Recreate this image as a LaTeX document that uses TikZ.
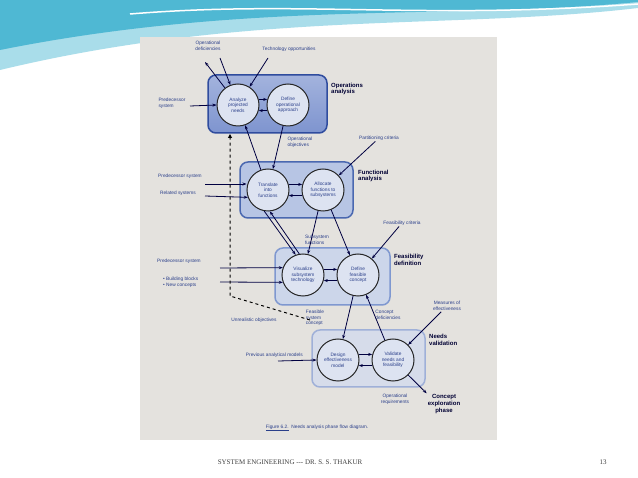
\documentclass[tikz,border=0pt]{standalone}
\usepackage{fontspec}
\setmainfont{Liberation Sans}
\newfontfamily\footfont{Liberation Serif}
\usetikzlibrary{arrows.meta}
\definecolor{photo}{HTML}{E4E2DE}
\definecolor{teal1}{HTML}{4FB8D3}
\definecolor{teal2}{HTML}{A9DDEA}
\definecolor{bline}{HTML}{2A3F8A}
\definecolor{opsA}{HTML}{A3B3DD}
\definecolor{opsB}{HTML}{7E94CF}
\definecolor{opsD}{HTML}{2F4C9E}
\definecolor{funF}{HTML}{B7C5E4}
\definecolor{funD}{HTML}{4A68B0}
\definecolor{feaF}{HTML}{CCD6EA}
\definecolor{feaD}{HTML}{7F98D0}
\definecolor{nvF}{HTML}{D6DCEA}
\definecolor{nvD}{HTML}{9FB0D8}
\definecolor{circF}{HTML}{DDE3F1}
\tikzset{
 proc/.style={circle,draw=black!85,line width=1pt,fill=circF,minimum size=42pt,inner sep=0pt,align=center,font=\fontsize{4.8}{5.6}\selectfont,text=bline},
 lbl/.style={font=\fontsize{4.8}{5.6}\selectfont,text=bline,align=left,inner sep=1pt},
 blbl/.style={font=\bfseries\fontsize{6}{6.8}\selectfont,text=black!80!blue,align=left,inner sep=1pt},
 ar/.style={-{Stealth[length=4pt,width=3pt]},line width=0.8pt,draw=black!75!blue},
 grp/.style={rounded corners=8pt,line width=1.5pt},
}
\begin{document}
\begin{tikzpicture}[x=1pt,y=-1pt]
\useasboundingbox (0,0) rectangle (638,478);
\fill[white] (0,0) rectangle (638,478);
% top wave
\fill[teal2] (0,0) -- (638,0) -- (638,8) .. controls (450,30) and (250,10) .. (0,70) -- cycle;
\fill[teal1] (0,0) -- (638,0) -- (638,2) .. controls (450,20) and (250,0) .. (0,50) -- cycle;
\draw[white,line width=1.5pt] (130,14) .. controls (300,0) and (420,20) .. (638,4);
% photo
\fill[photo] (140,37) rectangle (497,440);
% group boxes
\draw[grp,draw=opsD,top color=opsA,bottom color=opsB] (208,75) rectangle (327,133);
\draw[grp,draw=funD,fill=funF] (240,162) rectangle (353,218);
\draw[grp,draw=feaD,fill=feaF] (275,248) rectangle (390,305);
\draw[grp,draw=nvD,fill=nvF] (312,330) rectangle (425,387);
% circles
\node[proc] (an) at (238,105) {Analyze\\projected\\needs};
\node[proc] (dop) at (288,105) {Define\\operational\\approach};
\node[proc] (tr) at (268,190) {Translate\\into\\functions};
\node[proc] (al) at (323,190) {Allocate\\functions to\\subsystems};
\node[proc] (vi) at (303,275) {Visualize\\subsystem\\technology};
\node[proc] (df) at (358,275) {Define\\feasible\\concept};
\node[proc] (de) at (338,360) {Design\\effectiveness\\model};
\node[proc] (va) at (393,360) {Validate\\needs and\\feasibility};
% labels
\node[blbl,anchor=west] at (330,89) {Operations\\analysis};
\node[blbl,anchor=west] at (357,176) {Functional\\analysis};
\node[blbl,anchor=west] at (393,260) {Feasibility\\definition};
\node[blbl,anchor=west] at (428,340) {Needs\\validation};
\node[blbl,align=center] (cep) at (444,404) {Concept\\exploration\\phase};
\node[lbl,align=center] (od) at (208,46) {Operational\\deficiencies};
\node[lbl] (to) at (289,49) {Technology opportunities};
\node[lbl] (ps1) at (172,103) {Predecessor\\system};
\node[lbl] (oo) at (300,142) {Operational\\objectives};
\node[lbl] (pc) at (379,138) {Partitioning criteria};
\node[lbl,anchor=west] (ps2) at (157,176) {Predecessor system};
\node[lbl,anchor=west] (rs) at (159,193) {Related systems};
\node[lbl] (fc) at (402,223) {Feasibility criteria};
\node[lbl] (sf) at (317,240) {Subsystem\\functions};
\node[lbl,anchor=west] (ps3) at (156,261) {Predecessor system};
\node[lbl,anchor=west] (bb) at (162,282) {• Building blocks\\• New concepts};
\node[lbl] (uo) at (254,320) {Unrealistic objectives};
\node[lbl] (fsc) at (315,318) {Feasible\\system\\concept};
\node[lbl] (cd) at (388,315) {Concept\\deficiencies};
\node[lbl,align=center] (moe) at (447,306) {Measures of\\effectiveness};
\node[lbl,anchor=east] (pam) at (304,355) {Previous analytical models};
\node[lbl,align=center] (or) at (395,399) {Operational\\requirements};
\node[lbl] at (317,428) {\underline{Figure 6.2.}\ \ Needs analysis phase flow diagram.};
\node[font=\footfont\fontsize{7}{8}\selectfont,text=black!75] at (290,462) {SYSTEM ENGINEERING -\kern0pt-\kern0pt- DR. S. S. THAKUR};
\node[font=\footfont\fontsize{7}{8}\selectfont,text=black!75] at (603,462) {13};
% connectors
\coordinate (odo) at (205,62);
\coordinate (odi) at (220,58);
\coordinate (toi) at (268,58);
\coordinate (ps1e) at (190,106);
\coordinate (ps2e) at (205,184);
\coordinate (rse) at (205,196);
\coordinate (ps3e) at (220,268);
\coordinate (bbe) at (220,282);
\coordinate (pame) at (278,361);
\draw[ar] (an) -- (odo);
\draw[ar] (odi) -- (an);
\draw[ar] (toi) -- (an);
\draw[ar] (ps1e) -- (an.west);
\draw[ar] (an.15) -- (dop.165);
\draw[ar] (dop.195) -- (an.-15);
\draw[ar] (dop) -- (tr);
\draw[ar] (tr) -- (an);
\draw[ar] (pc) -- (al);
\draw[ar] (ps2e) -- (ps2e -| tr.west);
\draw[ar] (rse) -- (tr.200);
\draw[ar] (tr.15) -- (al.165);
\draw[ar] (al.195) -- (tr.-15);
\draw[ar] (tr.-100) -- (vi.110);
\draw[ar] (vi.100) -- (tr.-85);
\draw[ar] (al) -- (vi);
\draw[ar] (al) -- (df);
\draw[ar] (fc) -- (df);
\draw[ar] (ps3e) -- (vi.160);
\draw[ar] (bbe) -- (vi.200);
\draw[ar] (vi.15) -- (df.165);
\draw[ar] (df.195) -- (vi.-15);
\draw[ar] (df) -- (de);
\draw[ar] (va) -- (df);
\draw[ar] (moe) -- (va);
\draw[ar] (de.15) -- (va.165);
\draw[ar] (va.195) -- (de.-15);
\draw[ar] (pame) -- (de.west);
\draw[ar] (va) -- (cep.north west);
\draw[line width=1pt,dashed,-{Triangle[open,length=4pt,width=4pt]}] (310,320) -- (230,296) -- (230,134);
\end{tikzpicture}
\end{document}
